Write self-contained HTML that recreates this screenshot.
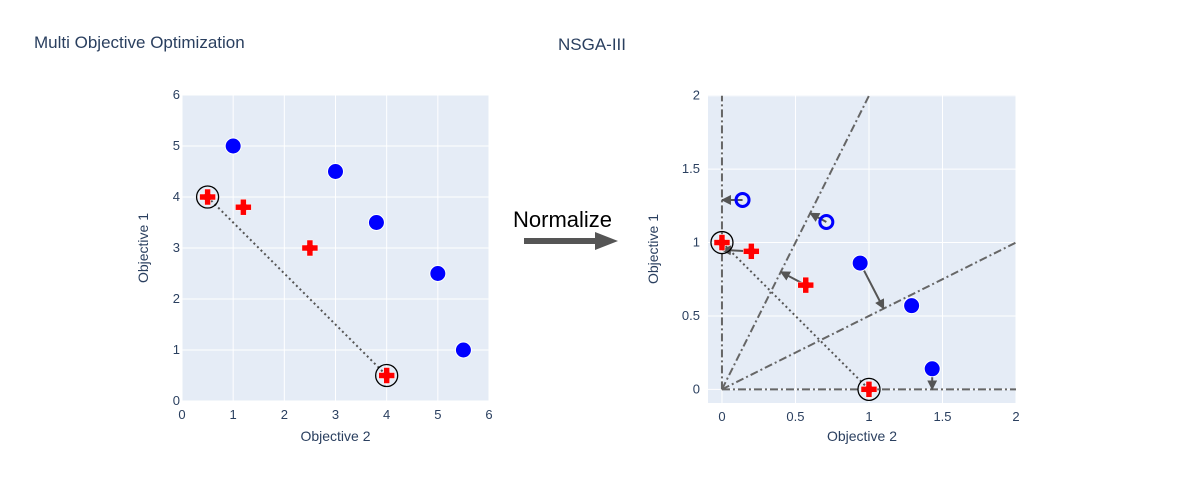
<!DOCTYPE html>
<html><head><meta charset="utf-8"><style>
body{margin:0;background:#fff;width:1200px;height:480px;overflow:hidden;font-family:"Liberation Sans",sans-serif}
svg text{font-family:"Liberation Sans",sans-serif;fill:#2a3f5f}
</style></head><body>
<svg id="s" width="1200" height="480">
<defs>
<marker id="ah" viewBox="0 0 10 10" refX="9" refY="5" markerWidth="5" markerHeight="5" orient="auto"><path d="M0,0L10,5L0,10z" fill="#555"/></marker>
</defs>
<text x="34" y="48" font-size="17">Multi Objective Optimization</text>
<text x="558" y="50" font-size="17">NSGA-III</text>
<g>
<text x="513" y="227" font-size="22" style="fill:#000">Normalize</text>
<rect x="524" y="238" width="73" height="6" fill="#555"/>
<path d="M595,232L618,241L595,250z" fill="#555"/>
</g>
<g id="L"></g><g id="R"></g>
</svg>
<script>
const leftCircleX=[1,3,3.8,5,5.5], leftCircleY=[5,4.5,3.5,2.5,1];
const leftCrossX=[0.5,1.2,2.5,4], leftCrossY=[4,3.8,3,0.5];
const leftRingX=[0.5,4], leftRingY=[4,0.5];
const leftTicks=[0,1,2,3,4,5,6];
const rightCircleX=[0.94,1.29,1.43], rightCircleY=[0.86,0.57,0.14];
const rightOpenX=[0.14,0.71], rightOpenY=[1.29,1.14];
const rightCrossX=[0,1,0.2,0.57], rightCrossY=[1,0,0.94,0.71];
const rightRingX=[0,1], rightRingY=[1,0];
const arrowFromX=[0.14,0.71,0.2,0.57,0.94,1.43], arrowFromY=[1.29,1.14,0.94,0.71,0.86,0.14];
const arrowToX=[0,0.6,0,0.4,1.1,1.43], arrowToY=[1.29,1.2,0.95,0.8,0.55,0];
const refEndX=[0,1,2,2], refEndY=[2,2,1,0];
const rightTicks=[0,0.5,1,1.5,2];
const NS="http://www.w3.org/2000/svg";
function mk(p,t,a){const e=document.createElementNS(NS,t);for(const k in a)e.setAttribute(k,a[k]);p.appendChild(e);return e;}
function axes(g,x0,x1,y0,y1,d0,d1,e0,e1,ticks,name){
  const sx=v=>x0+(v-d0)/(d1-d0)*(x1-x0), sy=v=>y1-(v-e0)/(e1-e0)*(y1-y0);
  const bg=mk(g,'rect',{x:x0,y:y0,width:x1-x0,height:y1-y0,fill:'#e5ecf6'});
  
  ticks.forEach(t=>{
    mk(g,'line',{x1:sx(t),x2:sx(t),y1:y0,y2:y1,stroke:'#fff','stroke-width':1});
    mk(g,'line',{x1:x0,x2:x1,y1:sy(t),y2:sy(t),stroke:'#fff','stroke-width':1});
    const tx=mk(g,'text',{x:sx(t),y:y1+18,'font-size':13,'text-anchor':'middle'});tx.textContent=t;
    
    const ty=mk(g,'text',{x:x0-(name=='left'?2:8),y:sy(t)+4,'font-size':13,'text-anchor':'end'});ty.textContent=t;
    
  });
  const xt=mk(g,'text',{x:(x0+x1)/2,y:441,'font-size':14,'text-anchor':'middle'});xt.textContent='Objective 2';
  
  const cy=(y0+y1)/2, cx=x0-(name=='left'?34:50);
  const yt=mk(g,'text',{x:cx,y:cy,'font-size':14,'text-anchor':'middle',transform:`rotate(-90 ${cx} ${cy})`});yt.textContent='Objective 1';
  
  return [sx,sy];
}
function circ(g,x,y,name){const c=mk(g,'circle',{cx:x,cy:y,r:8,fill:'#0000ff',stroke:'#fff','stroke-width':1});}
function open(g,x,y){const c=mk(g,'circle',{cx:x,cy:y,r:6.5,fill:'none',stroke:'#0000ff','stroke-width':3});}
function cross(g,x,y){const c=mk(g,'path',{d:`M${x-3},${y-8}h6v5h5v6h-5v5h-6v-5h-5v-6h5z`,fill:'#ff0000',stroke:'#fff','stroke-width':0.5});}
function ring(g,x,y){const c=mk(g,'circle',{cx:x,cy:y,r:11,fill:'none',stroke:'#000','stroke-width':1.3});}
const L=document.getElementById('L');
const [lx,ly]=axes(L,182,489,95,401,0,6,0,6,leftTicks,'left');
let dl=mk(L,'line',{x1:lx(leftRingX[0]),y1:ly(leftRingY[0]),x2:lx(leftRingX[1]),y2:ly(leftRingY[1]),stroke:'#555','stroke-width':2,'stroke-dasharray':'2,3'});

leftCircleX.forEach((v,i)=>circ(L,lx(v),ly(leftCircleY[i]),'circle-point'));
leftRingX.forEach((v,i)=>ring(L,lx(v),ly(leftRingY[i])));
leftCrossX.forEach((v,i)=>cross(L,lx(v),ly(leftCrossY[i])));
const R=document.getElementById('R');
const [rx,ry]=axes(R,708,1016,95,403,-0.095,2,-0.093,2.005,rightTicks,'right');
refEndX.forEach((v,i)=>{const l=mk(R,'line',{x1:rx(0),y1:ry(0),x2:rx(v),y2:ry(refEndY[i]),stroke:'#666','stroke-width':2,'stroke-dasharray':'8,3,2,3'});
  });
dl=mk(R,'line',{x1:rx(rightRingX[0]),y1:ry(rightRingY[0]),x2:rx(rightRingX[1]),y2:ry(rightRingY[1]),stroke:'#555','stroke-width':2,'stroke-dasharray':'2,3'});

arrowFromX.forEach((v,i)=>{const a=mk(R,'line',{x1:rx(v),y1:ry(arrowFromY[i]),x2:rx(arrowToX[i]),y2:ry(arrowToY[i]),stroke:'#555','stroke-width':2,'marker-end':'url(#ah)'});
  });
rightCircleX.forEach((v,i)=>circ(R,rx(v),ry(rightCircleY[i]),'circle-point'));
rightOpenX.forEach((v,i)=>open(R,rx(v),ry(rightOpenY[i])));
rightRingX.forEach((v,i)=>ring(R,rx(v),ry(rightRingY[i])));
rightCrossX.forEach((v,i)=>cross(R,rx(v),ry(rightCrossY[i])));
</script>
</body></html>
